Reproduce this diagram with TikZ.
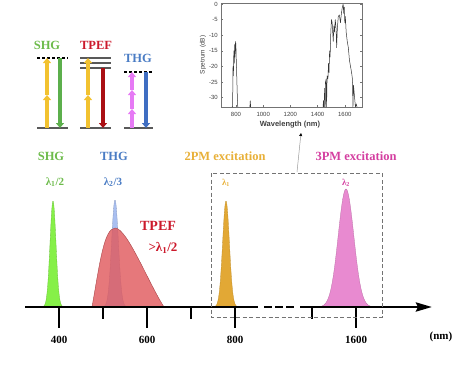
\documentclass[tikz,border=0pt]{standalone}
\usepackage{fontspec}
\setmainfont{Liberation Serif}
\newfontfamily\insetfont{Liberation Sans}
\usetikzlibrary{arrows.meta}
\definecolor{shgtxt}{HTML}{6DBB4B}
\definecolor{shgfill}{HTML}{86F048}
\definecolor{thgtxt}{HTML}{4A7CC4}
\definecolor{thgfill}{HTML}{A9BFF0}
\definecolor{tpeftxt}{HTML}{CC1A2C}
\definecolor{tpeffill}{HTML}{E05A5E}
\definecolor{twotxt}{HTML}{E8B038}
\definecolor{twofill}{HTML}{E2A835}
\definecolor{threetxt}{HTML}{D43FA0}
\definecolor{threefill}{HTML}{E88AD0}
\definecolor{uporange}{HTML}{F2C230}
\definecolor{dngreen}{HTML}{5CAF4C}
\definecolor{dnred}{HTML}{AA0F14}
\definecolor{upviolet}{HTML}{E67AF5}
\definecolor{dnblue}{HTML}{3F6EC2}
\tikzset{
  lbl/.style={font=\fontsize{12.5}{14}\selectfont\bfseries, inner sep=0pt},
  lam/.style={font=\fontsize{11}{12}\selectfont\bfseries, inner sep=0pt},
  ticklbl/.style={font=\fontsize{11}{12}\selectfont\bfseries, inner sep=0pt},
  level/.style={draw=black!65, line width=1.6pt},
  vlevel/.style={draw=black, line width=1.3pt, dash pattern=on 3pt off 2pt},
  ebar/.style={line width=3.6pt, -{Triangle[length=5pt,width=8pt]}},
  insettxt/.style={font=\insetfont\fontsize{6}{7}\selectfont, text=black!75, inner sep=0pt},
  majtick/.style={line width=2.8pt},
  mintick/.style={line width=2.4pt},
}
\begin{document}
\begin{tikzpicture}[x=1pt,y=-1pt]
\useasboundingbox (0,0) rectangle (474,373);

% ---------- energy diagrams ----------
\node[lbl, text=shgtxt] (eshg) at (47,45) {SHG};
\node[lbl, text=tpeftxt] (etpef) at (96,45) {TPEF};
\node[lbl, text=thgtxt] (ethg) at (138,58) {THG};
% SHG
\draw[level] (37,128) -- (68,128);
\draw[vlevel] (37,58) -- (68,58);
\coordinate (s0) at (47,128); \coordinate (s1) at (47,95); \coordinate (s2) at (47,58);
\draw[ebar, uporange] (s0) -- (s1);
\draw[ebar, uporange] (s1) -- (s2);
\coordinate (sg0) at (60,58); \coordinate (sg1) at (60,128);
\draw[ebar, dngreen] (sg0) -- (sg1);
% TPEF
\draw[level] (80,128) -- (111,128);
\draw[level] (80,58) -- (111,58);
\draw[level] (80,63) -- (111,63);
\draw[level] (80,68) -- (111,68);
\coordinate (t0) at (88,128); \coordinate (t1) at (88,95); \coordinate (t2) at (88,58);
\draw[ebar, uporange] (t0) -- (t1);
\draw[ebar, uporange] (t1) -- (t2);
\coordinate (tr0) at (103,68); \coordinate (tr1) at (103,128);
\draw[ebar, dnred] (tr0) -- (tr1);
% THG
\draw[level] (124,128) -- (153,128);
\draw[vlevel] (124,72) -- (153,72);
\coordinate (h0) at (132,128); \coordinate (h1) at (132,109); \coordinate (h2) at (132,90); \coordinate (h3) at (132,72);
\draw[ebar, upviolet] (h0) -- (h1);
\draw[ebar, upviolet] (h1) -- (h2);
\draw[ebar, upviolet] (h2) -- (h3);
\coordinate (hb0) at (146,72); \coordinate (hb1) at (146,128);
\draw[ebar, dnblue] (hb0) -- (hb1);

% ---------- inset spectrum ----------
\draw[black!55, line width=0.5pt] (221,3) rectangle (362,107);
\foreach \v/\yy in {0/4,-5/19.6,-10/35.2,-15/50.8,-20/66.4,-25/82,-30/97.6}{
  \draw[black!55, line width=0.4pt] (221,\yy) -- (223,\yy);
  \draw[black!55, line width=0.4pt] (362,\yy) -- (360,\yy);
  \node[insettxt, anchor=east] (yt\v) at (218,\yy) {\v};
}
\foreach \w/\xx in {800/236,1000/263.2,1200/290.4,1400/317.6,1600/344.8}{
  \draw[black!55, line width=0.4pt] (\xx,107) -- (\xx,105);
  \node[insettxt] (xt\w) at (\xx,114.5) {\w};
}
\node[insettxt, font=\insetfont\fontsize{7.5}{8}\selectfont\bfseries] (xlab) at (290,125) {Wavelength (nm)};
\node[insettxt, font=\insetfont\fontsize{6.5}{7}\selectfont, rotate=90] (ylab) at (203,55) {Spetrum (dB)};
\begin{scope}[shift={(127.2,4)}, x=0.136pt, y=3.12pt]
  \draw[black!80, line width=0.5pt, line join=round]
    (770,-33) -- (775,-33) -- (778,-20) -- (781,-23) -- (784,-15) -- (787,-19) -- (790,-13)
    -- (792,-17) -- (795,-12) -- (797,-15) -- (799,-12.5) -- (802,-18) -- (806,-24) -- (810,-30) -- (813,-33);
  \draw[black!80, line width=0.5pt] (902,-33) -- (905,-31) -- (908,-33);
  \draw[black!80, line width=0.5pt, line join=round]
    (1440,-33) -- (1443,-31) -- (1447,-33) -- (1452,-27) -- (1456,-33) -- (1458,-25) -- (1463,-24)
    -- (1466,-33) -- (1470,-23) -- (1476,-24) -- (1480,-19) -- (1484,-22) -- (1488,-15) -- (1492,-17)
    -- (1497,-9) -- (1502,-5) -- (1507,-6) -- (1511,-9) -- (1515,-12) -- (1520,-7) -- (1524,-9)
    -- (1530,-5) -- (1536,-8) -- (1540,-14) -- (1545,-8) -- (1552,-4) -- (1560,-3.5) -- (1568,-6)
    -- (1575,-3) -- (1582,-1) -- (1588,0) -- (1592,-3) -- (1596,-1) -- (1600,-6) -- (1604,-4)
    -- (1610,-9) -- (1618,-12) -- (1626,-14) -- (1634,-18) -- (1642,-20) -- (1650,-22) -- (1656,-24)
    -- (1660,-33) -- (1664,-26) -- (1672,-30) -- (1678,-33) -- (1684,-32) -- (1690,-33);
\end{scope}
\coordinate (boxtop) at (297,172);
\coordinate (plotref) at (301,133);
\draw[black!40, line width=0.5pt, -{Triangle[length=3pt,width=3pt,black]}] (boxtop) -- (plotref);

% ---------- peaks ----------
\fill[shgfill, draw=shgfill!80!black, line width=0.3pt]
  plot[domain=42:64, samples=60, smooth] (\x, {307-106*exp(-((\x-53)/4.2)^2)}) -- cycle;
\fill[thgfill, draw=thgfill!80!black, line width=0.3pt]
  plot[domain=102:128, samples=60, smooth] (\x, {307-107*exp(-((\x-115)/4.8)^2)}) -- cycle;
\fill[tpeffill, fill opacity=0.82, draw=tpeffill!75!black, line width=0.4pt]
  (92,307) .. controls (100,262) and (104,229) .. (115,228)
  .. controls (127,228) and (148,282) .. (164,307) -- cycle;
\fill[twofill, draw=twofill!85!black, line width=0.3pt]
  plot[domain=213:239, samples=60, smooth] (\x, {307-106*exp(-((\x-226)/4.8)^2)}) -- cycle;
\fill[threefill, draw=threefill!80!black, line width=0.3pt]
  plot[domain=318:374, samples=80, smooth] (\x, {307-118*exp(-((\x-346)/11)^2)}) -- cycle;

% ---------- axis ----------
\coordinate (ax0) at (25,307);
\coordinate (ax1) at (258,307);
\coordinate (ax2) at (300,307);
\coordinate (ax3) at (432,307);
\draw[line width=2.8pt] (ax0) -- (ax1);
\draw[line width=2.8pt, dash pattern=on 8pt off 3pt] (264,307) -- (294,307);
\draw[line width=2.8pt, -{Stealth[length=16pt,width=9pt,inset=2pt]}] (ax2) -- (ax3);
\foreach \xx in {59,147,235,356}{ \draw[majtick] (\xx,307) -- (\xx,328); }
\foreach \xx in {103,191,312}{ \draw[mintick] (\xx,307) -- (\xx,319); }
\node[ticklbl] (l400) at (59,340) {400};
\node[ticklbl] (l600) at (147,340) {600};
\node[ticklbl] (l800) at (235,340) {800};
\node[ticklbl] (l1600) at (356,340) {1600};
\node[ticklbl] (lnm) at (441,337) {(nm)};

% dashed box
\draw[black!55, line width=0.9pt, dash pattern=on 4pt off 2.5pt] (211,173) rectangle (382,317);

% ---------- labels ----------
\node[lbl, text=shgtxt] (shg) at (51,156) {SHG};
\node[lam, text=shgtxt] (lshg) at (55,182) {λ\textsubscript{1}/2};
\node[lbl, text=thgtxt] (thg) at (114,156) {THG};
\node[lam, text=thgtxt] (lthg) at (113,182) {λ\textsubscript{2}/3};
\node[lbl, text=twotxt] (two) at (225,156) {2PM excitation};
\node[lbl, text=threetxt] (three) at (356,156) {3PM excitation};
\node[lam, text=twotxt, font=\fontsize{9}{10}\selectfont\bfseries] (l1) at (226,183) {λ\textsubscript{1}};
\node[lam, text=threetxt, font=\fontsize{9}{10}\selectfont\bfseries] (l2) at (346,183) {λ\textsubscript{2}};
\node[lbl, text=tpeftxt, font=\fontsize{14}{16}\selectfont\bfseries] (tpef) at (158,226) {TPEF};
\node[lbl, text=tpeftxt, font=\fontsize{13}{15}\selectfont\bfseries] (ltpef) at (163,248) {>λ\textsubscript{1}/2};
\end{tikzpicture}
\end{document}
